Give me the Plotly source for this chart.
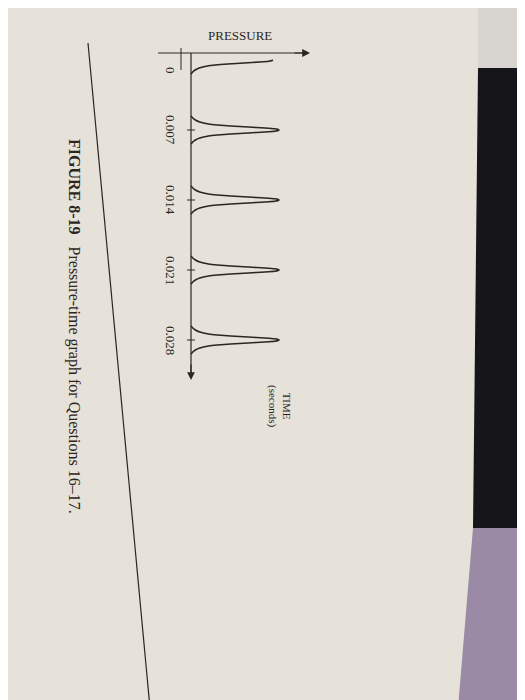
import plotly.graph_objects as go

# pulse centres (s) and tick labels
pulse_centres = [0.007, 0.014, 0.021, 0.028]
tick_values = [0.0, 0.007, 0.014, 0.021, 0.028]
tick_labels = ["0", "0.007", "0.014", "0.021", "0.028"]
# one pulse shape: time offset (s) and relative pressure
pulse_offsets = [-0.0014, -0.0012, -0.001, -0.0008, -0.0006, -0.0005, -0.0004, -0.0003, -0.0002, -0.00012, -0.00005, 0.0,
                 0.00005, 0.00012, 0.0002, 0.0003, 0.0004, 0.0005, 0.0006, 0.0008, 0.001, 0.0012, 0.0014]
pulse_pressure = [0.0, 0.02, 0.05, 0.1, 0.2, 0.3, 0.45, 0.65, 0.84, 0.95, 0.99, 1.0,
                  0.99, 0.95, 0.84, 0.65, 0.45, 0.3, 0.2, 0.1, 0.05, 0.02, 0.0]
first_pulse_scale = 0.93

PX0, PSC = 183, 88.0      # pixel of zero pressure, px per unit
TY0, TSC = 52, 10000.0    # pixel of t=0, px per second
def P(px): return (px - PX0) / PSC
def T(py): return (py - TY0) / TSC

ink = "#2a2622"
fig = go.Figure()

xs, ys = [], []
for o, p in zip(pulse_offsets, pulse_pressure):
    if o >= 0:
        xs.append(p * first_pulse_scale); ys.append(o)
fig.add_trace(go.Scatter(x=xs, y=ys, mode="lines", line=dict(color=ink, width=1.6, shape="spline", smoothing=0.6), hoverinfo="skip"))
for c in pulse_centres:
    fig.add_trace(go.Scatter(x=pulse_pressure, y=[c + o for o in pulse_offsets], mode="lines",
                             line=dict(color=ink, width=1.6, shape="spline", smoothing=0.6), hoverinfo="skip"))

shapes = [
    dict(type="rect", xref="paper", yref="paper", x0=0, x1=1, y0=0, y1=1, fillcolor="#e6e2da", line_width=0, layer="below"),
    dict(type="path", xref="x", yref="y", path=f"M {P(470)} {T(60)} L {P(525)} {T(60)} L {P(525)} {T(520)} L {P(465)} {T(520)} Z",
         fillcolor="#16161a", line_width=0, layer="below"),
    dict(type="path", xref="x", yref="y", path=f"M {P(465)} {T(520)} L {P(525)} {T(520)} L {P(525)} {T(700)} L {P(450)} {T(700)} Z",
         fillcolor="#9a8aa6", line_width=0, layer="below"),
    dict(type="path", xref="x", yref="y", path=f"M {P(470)} {T(0)} L {P(525)} {T(0)} L {P(525)} {T(60)} L {P(470)} {T(60)} Z",
         fillcolor="#d8d4d0", line_width=0, layer="below"),
    dict(type="line", xref="x", yref="y", x0=P(150), x1=P(295), y0=T(45), y1=T(45), line=dict(color=ink, width=1.2)),
    dict(type="line", xref="x", yref="y", x0=0, x1=0, y0=T(45), y1=T(365), line=dict(color=ink, width=1.2)),
    dict(type="line", xref="x", yref="y", x0=P(80), x1=P(142), y0=T(35), y1=T(700), line=dict(color=ink, width=1.2)),
]
for v in tick_values[1:]:
    shapes.append(dict(type="line", xref="x", yref="y", x0=P(PX0 - 4), x1=P(PX0 + 4), y0=v, y1=v, line=dict(color=ink, width=1)))
shapes.append(dict(type="line", xref="x", yref="y", x0=P(PX0 - 10), x1=P(PX0 - 10), y0=T(40), y1=T(62), line=dict(color=ink, width=1)))

ann = []
serif = "Liberation Serif"
ann.append(dict(x=P(232), y=T(27), text="PRESSURE", showarrow=False, font=dict(family=serif, size=13, color=ink)))
for v, lab in zip(tick_values, tick_labels):
    ann.append(dict(x=P(PX0 - 20), y=v if v > 0 else T(62), text=lab, showarrow=False, textangle=90,
                    font=dict(family=serif, size=13, color=ink)))
ann.append(dict(x=P(272), y=T(398), text="TIME<br>(seconds)", showarrow=False, textangle=90,
                font=dict(family=serif, size=11, color=ink)))
ann.append(dict(x=P(66), y=T(318), text="<b>FIGURE 8-19</b>   Pressure-time graph for Questions 16–17.",
                showarrow=False, textangle=90, font=dict(family=serif, size=16, color=ink)))
ann.append(dict(x=P(302), y=T(45), ax=P(285), ay=T(45), xref="x", yref="y", axref="x", ayref="y", text="",
                showarrow=True, arrowhead=2, arrowsize=1.3, arrowwidth=1.2, arrowcolor=ink))
ann.append(dict(x=0, y=T(372), ax=0, ay=T(355), xref="x", yref="y", axref="x", ayref="y", text="",
                showarrow=True, arrowhead=2, arrowsize=1.3, arrowwidth=1.2, arrowcolor=ink))

fig.update_layout(
    width=525, height=700, margin=dict(l=0, r=0, t=0, b=0),
    paper_bgcolor="#e6e2da", plot_bgcolor="rgba(0,0,0,0)", showlegend=False,
    xaxis=dict(range=[P(0), P(525)], visible=False, fixedrange=True),
    yaxis=dict(range=[T(700), T(0)], visible=False, fixedrange=True),
    shapes=shapes, annotations=ann,
)
fig.write_html("out.html")
